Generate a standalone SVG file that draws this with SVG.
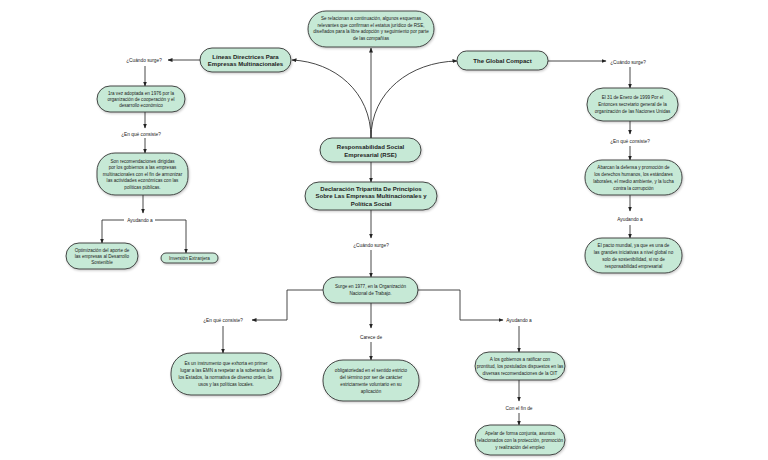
<svg xmlns="http://www.w3.org/2000/svg" width="768" height="460" viewBox="0 0 768 460">
<defs>
<marker id="ah" viewBox="0 0 10 10" refX="9" refY="5" markerWidth="5" markerHeight="5" orient="auto" markerUnits="userSpaceOnUse">
<path d="M0,1 L10,5 L0,9 Z" fill="#222"/>
</marker>
<filter id="sh" x="-10%" y="-20%" width="120%" height="150%">
<feDropShadow dx="0.8" dy="1.2" stdDeviation="0.8" flood-color="#000" flood-opacity="0.22"/>
</filter>
<style>
.n rect{fill:#c6e9d6;stroke:#333;stroke-width:0.9;filter:url(#sh)}
.t{font-family:"Liberation Sans",Arial,sans-serif;font-size:4.6px;fill:#222;text-anchor:middle}
.b{font-family:"Liberation Sans",Arial,sans-serif;font-size:6px;font-weight:bold;fill:#222;text-anchor:middle}
.l{font-family:"Liberation Sans",Arial,sans-serif;font-size:4.8px;fill:#222;text-anchor:middle}
.c path{fill:none;stroke:#333;stroke-width:0.9;marker-end:url(#ah)}
</style>
</defs>
<rect width="768" height="460" fill="#fff"/>

<g id="connectors" class="c">
<path d="M371,138 L371,48"/>
<path d="M371,138 C371,92 335,62 292,60"/>
<path d="M371,138 C371,92 410,62 457,61"/>
<path d="M200,60 L168,60"/>
<path d="M145,66 L145,86"/>
<path d="M145,112 L145,128"/>
<path d="M145,138 L145,153"/>
<path d="M143,195 L143,213"/>
<path d="M124,220 L102,220 L102,243"/>
<path d="M155,220 L186,220 L186,253"/>
<path d="M548,61 L606,61"/>
<path d="M630,67 L630,88"/>
<path d="M630,121 L630,134"/>
<path d="M630,146 L630,160"/>
<path d="M630,195 L630,211"/>
<path d="M630,225 L630,238"/>
<path d="M371,162 L371,182"/>
<path d="M371,210 L371,238"/>
<path d="M371,250 L371,277"/>
<path d="M323,290 L287,290 L287,320 L252,320"/>
<path d="M418,290 L460,290 L460,320 L503,320"/>
<path d="M371,303 L371,328"/>
<path d="M223,326 L223,353"/>
<path d="M371,342 L371,360"/>
<path d="M519,326 L519,352"/>
<path d="M519,380 L519,401"/>
<path d="M519,413 L519,425"/>
</g>

<g id="labels">
<text class="l" x="144" y="62">¿Cuándo surge?</text>
<text class="l" x="141" y="136">¿En qué consiste?</text>
<text class="l" x="140" y="222">Ayudando a</text>
<text class="l" x="628" y="63.5">¿Cuándo surge?</text>
<text class="l" x="630" y="142.5">¿En qué consiste?</text>
<text class="l" x="630" y="221">Ayudando a</text>
<text class="l" x="371" y="247">¿Cuándo surge?</text>
<text class="l" x="223" y="322">¿En qué consiste?</text>
<text class="l" x="371" y="339">Carece de</text>
<text class="l" x="519" y="322">Ayudando a</text>
<text class="l" x="519" y="410">Con el fin de</text>
</g>

<g id="top" class="n">
<rect x="308" y="11" width="126" height="36" rx="18"/>
<text class="t" x="371" y="19.8">Se relacionan a continuación, algunos esquemas</text>
<text class="t" x="371" y="26.6">relevantes que confirman el estatus jurídico de RSE,</text>
<text class="t" x="371" y="33.4">diseñados para la libre adopción y seguimiento por parte</text>
<text class="t" x="371" y="40.2">de las compañías</text>
</g>

<g id="lineas" class="n">
<rect x="200" y="48" width="91" height="24" rx="12"/>
<text class="b" x="245.5" y="58.5">Líneas Directrices Para</text>
<text class="b" x="245.5" y="66">Empresas Multinacionales</text>
</g>

<g id="gc" class="n">
<rect x="457" y="51" width="91" height="19" rx="9.5"/>
<text class="b" x="502.5" y="62.6">The Global Compact</text>
</g>

<g id="n1" class="n">
<rect x="97" y="86" width="88" height="26" rx="13"/>
<text class="t" x="141" y="94.6">1ra vez adoptada en 1976 por la</text>
<text class="t" x="141" y="100.6">organización de cooperación y el</text>
<text class="t" x="141" y="106.6">desarrollo económico</text>
</g>

<g id="n2" class="n">
<rect x="97" y="153" width="91" height="42" rx="18"/>
<text class="t" x="142.5" y="162.6">Son recomendaciones dirigidas</text>
<text class="t" x="142.5" y="169.1">por los gobiernos a las empresas</text>
<text class="t" x="142.5" y="175.6">multinacionales con el fin de armonizar</text>
<text class="t" x="142.5" y="182.1">las actividades económicas con las</text>
<text class="t" x="142.5" y="188.6">políticas públicas.</text>
</g>

<g id="opt" class="n">
<rect x="66" y="243" width="72" height="26" rx="13"/>
<text class="t" x="102" y="251.6">Optimización del aporte de</text>
<text class="t" x="102" y="257.6">las empresas al Desarrollo</text>
<text class="t" x="102" y="263.6">Sostenible</text>
</g>

<g id="inv" class="n">
<rect x="161" y="253" width="57" height="10" rx="5"/>
<text class="t" x="189.5" y="259.6">Inversión Extranjera</text>
</g>

<g id="gc1" class="n">
<rect x="587" y="88" width="91" height="33" rx="16"/>
<text class="t" x="632.5" y="99">El 31 de Enero de 1999 Por el</text>
<text class="t" x="632.5" y="106">Entonces secretario general de la</text>
<text class="t" x="632.5" y="113">organización de las Naciones Unidas</text>
</g>

<g id="gc2" class="n">
<rect x="585" y="160" width="97" height="35" rx="17"/>
<text class="t" x="633.5" y="168.6">Abarcan la defensa y promoción de</text>
<text class="t" x="633.5" y="175.6">los derechos humanos, los estándares</text>
<text class="t" x="633.5" y="182.6">laborales, el medio ambiente, y la lucha</text>
<text class="t" x="633.5" y="189.6">contra la corrupción</text>
</g>

<g id="gc3" class="n">
<rect x="585" y="238" width="97" height="35" rx="17"/>
<text class="t" x="633.5" y="246.6">El pacto mundial, ya que es una de</text>
<text class="t" x="633.5" y="253.6">las grandes iniciativas a nivel global no</text>
<text class="t" x="633.5" y="260.6">solo de sostenibilidad, si no de</text>
<text class="t" x="633.5" y="267.6">responsabilidad empresarial</text>
</g>

<g id="rse" class="n">
<rect x="320" y="138" width="101" height="24" rx="12"/>
<text class="b" x="370.5" y="148.5">Responsabilidad Social</text>
<text class="b" x="370.5" y="156.5">Empresarial (RSE)</text>
</g>

<g id="decl" class="n">
<rect x="305" y="182" width="132" height="28" rx="14"/>
<text class="b" x="371" y="190.6">Declaración Tripartita De Principios</text>
<text class="b" x="371" y="198.1">Sobre Las Empresas Multinacionales y</text>
<text class="b" x="371" y="205.6">Política Social</text>
</g>

<g id="surge" class="n">
<rect x="323" y="277" width="95" height="26" rx="13"/>
<text class="t" x="370.5" y="288.2">Surge en 1977, en la Organización</text>
<text class="t" x="370.5" y="295.2">Nacional de Trabajo.</text>
</g>

<g id="esun" class="n">
<rect x="171" y="353" width="110" height="42" rx="20"/>
<text class="t" x="226" y="365.2">Es un instrumento que exhorta en primer</text>
<text class="t" x="226" y="372.2">lugar a las EMN a respetar a la soberanía de</text>
<text class="t" x="226" y="379.2">los Estados, la normativa de diverso orden, los</text>
<text class="t" x="226" y="386.2">usos y las políticas locales.</text>
</g>

<g id="oblig" class="n">
<rect x="323" y="360" width="96" height="41" rx="20"/>
<text class="t" x="371" y="371.7">obligatoriedad en el sentido estricto</text>
<text class="t" x="371" y="378.7">del término por ser de carácter</text>
<text class="t" x="371" y="385.7">estrictamente voluntario en su</text>
<text class="t" x="371" y="392.7">aplicación</text>
</g>

<g id="gob" class="n">
<rect x="475" y="352" width="90" height="28" rx="14"/>
<text class="t" x="520" y="360.7">A los gobiernos a ratificar con</text>
<text class="t" x="520" y="367.7">prontitud, los postulados dispuestos en las</text>
<text class="t" x="520" y="374.7">diversas recomendaciones de la OIT</text>
</g>

<g id="apelar" class="n">
<rect x="475" y="425" width="90" height="30" rx="15"/>
<text class="t" x="520" y="434.7">Apelar de forma conjunta, asuntos</text>
<text class="t" x="520" y="441.7">relacionados con la protección, promoción</text>
<text class="t" x="520" y="448.7">y realización del empleo</text>
</g>
</svg>
